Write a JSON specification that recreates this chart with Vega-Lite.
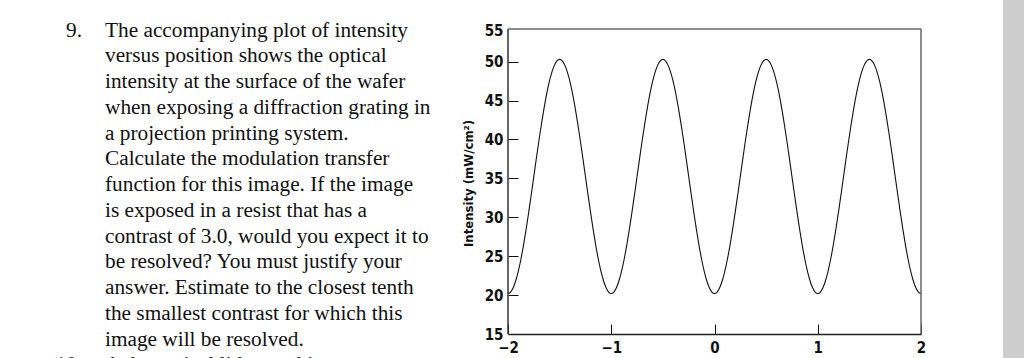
{
  "$schema": "https://vega.github.io/schema/vega-lite/v6.json",
  "padding": 0,
  "bounds": "flush",
  "spacing": 82,
  "background": "white",
  "config": {"view": {"stroke": null}},
  "hconcat": [
    {
      "width": 426,
      "height": 358,
      "data": {"values": [
        {"line": 1, "part": "num", "text": "9."},
        {"line": 1, "part": "body", "text": "The accompanying plot of intensity"},
        {"line": 2, "part": "body", "text": "versus position shows the optical"},
        {"line": 3, "part": "body", "text": "intensity at the surface of the wafer"},
        {"line": 4, "part": "body", "text": "when exposing a diffraction grating in"},
        {"line": 5, "part": "body", "text": "a projection printing system."},
        {"line": 6, "part": "body", "text": "Calculate the modulation transfer"},
        {"line": 7, "part": "body", "text": "function for this image. If the image"},
        {"line": 8, "part": "body", "text": "is exposed in a resist that has a"},
        {"line": 9, "part": "body", "text": "contrast of 3.0, would you expect it to"},
        {"line": 10, "part": "body", "text": "be resolved? You must justify your"},
        {"line": 11, "part": "body", "text": "answer. Estimate to the closest tenth"},
        {"line": 12, "part": "body", "text": "the smallest contrast for which this"},
        {"line": 13, "part": "body", "text": "image will be resolved."},
        {"line": 14, "part": "num", "text": "10."},
        {"line": 14, "part": "body", "text": "A theoretical lithographic"}
      ]},
      "encoding": {
        "x": {"field": "part", "type": "nominal", "scale": {"domain": ["num", "body"], "range": [82, 105], "padding": 0}, "axis": null},
        "y": {"field": "line", "type": "quantitative", "scale": {"domain": [1, 13], "range": [36.5, 345.5]}, "axis": null},
        "text": {"field": "text", "type": "nominal"}
      },
      "layer": [
        {
          "transform": [{"filter": "datum.part === 'num'"}],
          "mark": {"type": "text", "align": "right", "baseline": "alphabetic", "font": "Liberation Serif", "fontSize": 21.3, "color": "#111"}
        },
        {
          "transform": [{"filter": "datum.part === 'body'"}],
          "mark": {"type": "text", "align": "left", "baseline": "alphabetic", "font": "Liberation Serif", "fontSize": 21.3, "color": "#111"}
        }
      ]
    },
    {
      "width": 413,
      "height": 334,
      "data": {"values": [
        {"x":-2,"i":20.2},{"x":-1.975,"i":20.39},{"x":-1.95,"i":20.94},{"x":-1.925,"i":21.84},{"x":-1.9,"i":23.07},{"x":-1.875,"i":24.61},{"x":-1.85,"i":26.4},{"x":-1.825,"i":28.42},{"x":-1.8,"i":30.6},{"x":-1.775,"i":32.9},{"x":-1.75,"i":35.25},{"x":-1.725,"i":37.6},{"x":-1.7,"i":39.9},{"x":-1.675,"i":42.08},{"x":-1.65,"i":44.1},{"x":-1.625,"i":45.89},{"x":-1.6,"i":47.43},{"x":-1.575,"i":48.66},{"x":-1.55,"i":49.56},{"x":-1.525,"i":50.11},{"x":-1.5,"i":50.3},{"x":-1.475,"i":50.11},{"x":-1.45,"i":49.56},{"x":-1.425,"i":48.66},{"x":-1.4,"i":47.43},{"x":-1.375,"i":45.89},{"x":-1.35,"i":44.1},{"x":-1.325,"i":42.08},{"x":-1.3,"i":39.9},{"x":-1.275,"i":37.6},{"x":-1.25,"i":35.25},{"x":-1.225,"i":32.9},{"x":-1.2,"i":30.6},{"x":-1.175,"i":28.42},{"x":-1.15,"i":26.4},{"x":-1.125,"i":24.61},{"x":-1.1,"i":23.07},{"x":-1.075,"i":21.84},{"x":-1.05,"i":20.94},{"x":-1.025,"i":20.39},
        {"x":-1,"i":20.2},{"x":-0.975,"i":20.39},{"x":-0.95,"i":20.94},{"x":-0.925,"i":21.84},{"x":-0.9,"i":23.07},{"x":-0.875,"i":24.61},{"x":-0.85,"i":26.4},{"x":-0.825,"i":28.42},{"x":-0.8,"i":30.6},{"x":-0.775,"i":32.9},{"x":-0.75,"i":35.25},{"x":-0.725,"i":37.6},{"x":-0.7,"i":39.9},{"x":-0.675,"i":42.08},{"x":-0.65,"i":44.1},{"x":-0.625,"i":45.89},{"x":-0.6,"i":47.43},{"x":-0.575,"i":48.66},{"x":-0.55,"i":49.56},{"x":-0.525,"i":50.11},{"x":-0.5,"i":50.3},{"x":-0.475,"i":50.11},{"x":-0.45,"i":49.56},{"x":-0.425,"i":48.66},{"x":-0.4,"i":47.43},{"x":-0.375,"i":45.89},{"x":-0.35,"i":44.1},{"x":-0.325,"i":42.08},{"x":-0.3,"i":39.9},{"x":-0.275,"i":37.6},{"x":-0.25,"i":35.25},{"x":-0.225,"i":32.9},{"x":-0.2,"i":30.6},{"x":-0.175,"i":28.42},{"x":-0.15,"i":26.4},{"x":-0.125,"i":24.61},{"x":-0.1,"i":23.07},{"x":-0.075,"i":21.84},{"x":-0.05,"i":20.94},{"x":-0.025,"i":20.39},
        {"x":0,"i":20.2},{"x":0.025,"i":20.39},{"x":0.05,"i":20.94},{"x":0.075,"i":21.84},{"x":0.1,"i":23.07},{"x":0.125,"i":24.61},{"x":0.15,"i":26.4},{"x":0.175,"i":28.42},{"x":0.2,"i":30.6},{"x":0.225,"i":32.9},{"x":0.25,"i":35.25},{"x":0.275,"i":37.6},{"x":0.3,"i":39.9},{"x":0.325,"i":42.08},{"x":0.35,"i":44.1},{"x":0.375,"i":45.89},{"x":0.4,"i":47.43},{"x":0.425,"i":48.66},{"x":0.45,"i":49.56},{"x":0.475,"i":50.11},{"x":0.5,"i":50.3},{"x":0.525,"i":50.11},{"x":0.55,"i":49.56},{"x":0.575,"i":48.66},{"x":0.6,"i":47.43},{"x":0.625,"i":45.89},{"x":0.65,"i":44.1},{"x":0.675,"i":42.08},{"x":0.7,"i":39.9},{"x":0.725,"i":37.6},{"x":0.75,"i":35.25},{"x":0.775,"i":32.9},{"x":0.8,"i":30.6},{"x":0.825,"i":28.42},{"x":0.85,"i":26.4},{"x":0.875,"i":24.61},{"x":0.9,"i":23.07},{"x":0.925,"i":21.84},{"x":0.95,"i":20.94},{"x":0.975,"i":20.39},
        {"x":1,"i":20.2},{"x":1.025,"i":20.39},{"x":1.05,"i":20.94},{"x":1.075,"i":21.84},{"x":1.1,"i":23.07},{"x":1.125,"i":24.61},{"x":1.15,"i":26.4},{"x":1.175,"i":28.42},{"x":1.2,"i":30.6},{"x":1.225,"i":32.9},{"x":1.25,"i":35.25},{"x":1.275,"i":37.6},{"x":1.3,"i":39.9},{"x":1.325,"i":42.08},{"x":1.35,"i":44.1},{"x":1.375,"i":45.89},{"x":1.4,"i":47.43},{"x":1.425,"i":48.66},{"x":1.45,"i":49.56},{"x":1.475,"i":50.11},{"x":1.5,"i":50.3},{"x":1.525,"i":50.11},{"x":1.55,"i":49.56},{"x":1.575,"i":48.66},{"x":1.6,"i":47.43},{"x":1.625,"i":45.89},{"x":1.65,"i":44.1},{"x":1.675,"i":42.08},{"x":1.7,"i":39.9},{"x":1.725,"i":37.6},{"x":1.75,"i":35.25},{"x":1.775,"i":32.9},{"x":1.8,"i":30.6},{"x":1.825,"i":28.42},{"x":1.85,"i":26.4},{"x":1.875,"i":24.61},{"x":1.9,"i":23.07},{"x":1.925,"i":21.84},{"x":1.95,"i":20.94},{"x":1.975,"i":20.39},
        {"x":2,"i":20.2}
      ]},
      "layer": [
        {
          "mark": {"type": "line", "color": "#111", "strokeWidth": 1.1, "interpolate": "monotone"},
          "encoding": {
            "x": {
              "field": "x", "type": "quantitative",
              "scale": {"domain": [-2, 2], "nice": false, "zero": false},
              "axis": {
                "values": [-2, -1, 0, 1, 2],
                "format": "d",
                "title": null,
                "grid": false,
                "labelFlush": false,
                "domainColor": "#222",
                "domainWidth": 1.5,
                "tickColor": "#111",
                "tickSize": -10,
                "tickWidth": 1,
                "labelPadding": 16,
                "labelFont": "Liberation Sans Narrow, DejaVu Sans Condensed, Liberation Sans",
                "labelFontWeight": "bold",
                "labelFontSize": 15,
                "labelColor": "#111"
              }
            },
            "y": {
              "field": "i", "type": "quantitative",
              "scale": {"domain": [15, 57.93], "nice": false, "zero": false},
              "axis": {
                "values": [15, 20, 25, 30, 35, 40, 45, 50, 54],
                "labelExpr": "datum.value == 54 ? '55' : datum.label",
                "title": "Intensity (mW/cm²)",
                "titleFont": "Liberation Sans Narrow, DejaVu Sans Condensed, Liberation Sans",
                "titleFontWeight": "bold",
                "titleFontSize": 13,
                "titleColor": "#111",
                "titleX": -40,
                "titleY": 183,
                "titleAngle": 270,
                "titleAlign": "center",
                "titleBaseline": "middle",
                "grid": false,
                "domain": false,
                "tickColor": "#111",
                "tickSize": -10,
                "tickWidth": 1,
                "tickOpacity": {"condition": {"test": "datum.value == 54 || datum.value == 15", "value": 0}, "value": 1},
                "labelPadding": 15,
                "labelFont": "Liberation Sans Narrow, DejaVu Sans Condensed, Liberation Sans",
                "labelFontWeight": "bold",
                "labelFontSize": 15,
                "labelColor": "#111"
              }
            }
          }
        },
        {
          "data": {"values": [{}]},
          "mark": {"type": "rule", "color": "#333", "strokeWidth": 1.5},
          "encoding": {"x": {"datum": -2}, "y": {"datum": 15}, "y2": {"datum": 54.2}}
        },
        {
          "data": {"values": [{}]},
          "mark": {"type": "rule", "color": "#666", "strokeWidth": 1.5},
          "encoding": {"x": {"datum": 2}, "y": {"datum": 15}, "y2": {"datum": 54.2}}
        },
        {
          "data": {"values": [{}]},
          "mark": {"type": "rule", "color": "#666", "strokeWidth": 1.5},
          "encoding": {"x": {"datum": -2}, "x2": {"datum": 2}, "y": {"datum": 54.2}}
        }
      ]
    },
    {
      "width": 21,
      "height": 358,
      "view": {"fill": "#cdcdcd", "stroke": null},
      "data": {"values": [{}]},
      "mark": {"type": "text", "text": ""}
    }
  ]
}
